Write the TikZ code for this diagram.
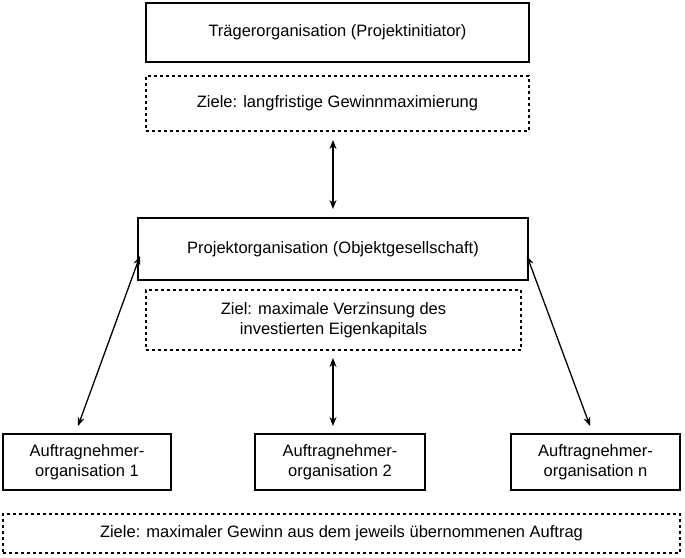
\documentclass[tikz,border=0pt]{standalone}
\usepackage{fontspec}
\setmainfont{Liberation Sans}
\usetikzlibrary{arrows.meta}
\begin{document}
\begin{tikzpicture}[x=1pt,y=-1pt,
  solidbox/.style={draw,line width=1.6pt,align=center,font=\fontsize{16.5}{20}\selectfont,inner sep=0pt},
  dashbox/.style={draw,dashed,line width=1.3pt,align=center,font=\fontsize{16.5}{20}\selectfont,inner sep=0pt},
  conn/.style={line width=1.3pt,{Stealth[length=9pt,width=7pt]}-{Stealth[length=9pt,width=7pt]}}]
\useasboundingbox (0,0) rectangle (685,557);
\node[solidbox,minimum width=383pt,minimum height=59pt] (tr) at (337.5,32.5) {Trägerorganisation (Projektinitiator)};
\node[dashbox,minimum width=383pt,minimum height=55pt] (trz) at (337.5,103.5) {Ziele: langfristige Gewinnmaximierung};
\node[solidbox,minimum width=390pt,minimum height=62pt] (po) at (333,249) {Projektorganisation (Objektgesellschaft)};
\node[dashbox,minimum width=375pt,minimum height=60pt] (poz) at (333.5,320) {Ziel: maximale Verzinsung des\\investierten Eigenkapitals};
\node[solidbox,minimum width=168pt,minimum height=56pt] (a1) at (87,462) {Auftragnehmer-\\organisation 1};
\node[solidbox,minimum width=170pt,minimum height=56pt] (a2) at (340,462) {Auftragnehmer-\\organisation 2};
\node[solidbox,minimum width=169pt,minimum height=56pt] (an) at (595.5,462) {Auftragnehmer-\\organisation n};
\node[dashbox,minimum width=677pt,minimum height=39pt] (az) at (341.5,533.5) {Ziele: maximaler Gewinn aus dem jeweils übernommenen Auftrag};
\coordinate (c1) at (333,140);
\coordinate (c2) at (333,209);
\draw[conn] (c1) -- (c2);
\coordinate (c3) at (333,358);
\coordinate (c4) at (333,426);
\draw[conn] (c3) -- (c4);
\coordinate (l1) at (140,256);
\coordinate (l2) at (78,426);
\draw[conn] (l1) -- (l2);
\coordinate (r1) at (527,256);
\coordinate (r2) at (590,426);
\draw[conn] (r1) -- (r2);
\end{tikzpicture}
\end{document}
